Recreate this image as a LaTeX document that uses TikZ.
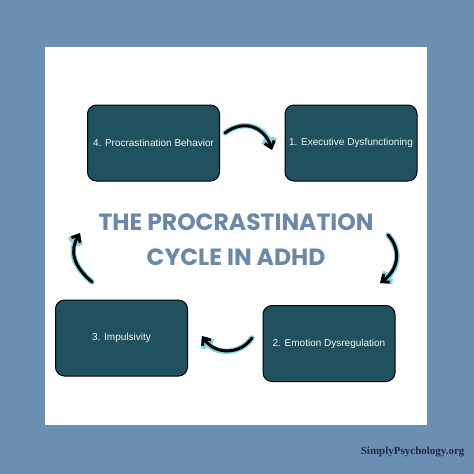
\documentclass[tikz,border=0pt]{standalone}
\usepackage{fontspec}
\setmainfont{Liberation Sans}
\newfontfamily\titlefont{Poppins}
\newfontfamily\sitefont{Liberation Serif}
\usetikzlibrary{arrows.meta,positioning,calc}
\definecolor{frameblue}{HTML}{6B8FB0}
\definecolor{boxteal}{HTML}{1F525E}
\definecolor{titleblue}{HTML}{6A88A8}
\definecolor{glowcyan}{HTML}{7FD3DE}
\definecolor{sitenavy}{HTML}{1E2C48}

\begin{document}
\begin{tikzpicture}[x=1pt, y=-1pt,
    stage/.style={rectangle, draw=black, line width=1pt, fill=boxteal, rounded corners=9pt,
        minimum width=132pt, minimum height=76pt, text=white!92!gray, font=\fontsize{10}{12}\selectfont},
    glow/.style={glowcyan, line width=5.5pt, line cap=round, -{Straight Barb[length=7pt,width=12pt]}},
    turn/.style={black, line width=3pt, line cap=round, -{Straight Barb[length=6pt,width=10pt]}}]
    \fill[frameblue] (0,0) rectangle (474,474);
    \fill[white] (45,47) rectangle (427,425);

    \node[stage] (behavior) at (153.5,143) {4. Procrastination Behavior};
    \node[stage] (executive) at (351,143) {1. Executive Dysfunctioning};
    \node[stage] (emotion) at (329,343.5) {2. Emotion Dysregulation};
    \node[stage] (impulsivity) at (121.5,338) {3. Impulsivity};

    \node[text=titleblue, align=center, font=\titlefont\bfseries\fontsize{23.5}{35}\selectfont] (title) at (236,240)
        {THE PROCRASTINATION\\CYCLE IN ADHD};

    % Cycle arrows
    \coordinate (top from) at (225,133);
    \coordinate (top to) at (272,150);
    \coordinate (right from) at (388,235);
    \coordinate (right to) at (380,283);
    \coordinate (bottom from) at (252,338);
    \coordinate (bottom to) at (202,336);
    \coordinate (left from) at (92,282);
    \coordinate (left to) at (80,233);

    \draw[glow] (top from) .. controls (245,118) and (265,128) .. (top to);
    \draw[turn] (top from) .. controls (245,118) and (265,128) .. (top to);
    \draw[glow] (right from) .. controls (402,250) and (398,270) .. (right to);
    \draw[turn] (right from) .. controls (402,250) and (398,270) .. (right to);
    \draw[glow] (bottom from) .. controls (240,355) and (215,355) .. (bottom to);
    \draw[turn] (bottom from) .. controls (240,355) and (215,355) .. (bottom to);
    \draw[glow] (left from) .. controls (72,265) and (70,250) .. (left to);
    \draw[turn] (left from) .. controls (72,265) and (70,250) .. (left to);

    \node[text=sitenavy, font=\sitefont\bfseries\fontsize{11}{13}\selectfont, anchor=east] (site) at (468,452) {SimplyPsychology.org};
\end{tikzpicture}
\end{document}
